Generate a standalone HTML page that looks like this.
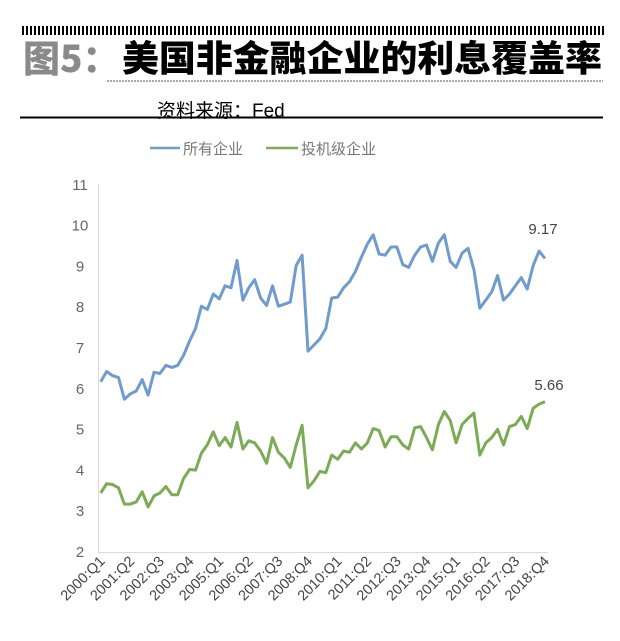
<!DOCTYPE html>
<html><head><meta charset="utf-8"><style>
body{margin:0;background:#fff;width:620px;height:641px;overflow:hidden}
svg{display:block}
</style></head><body>
<svg width="620" height="641" xmlns="http://www.w3.org/2000/svg">
<defs><pattern id="bars" x="22" y="0" width="4" height="10" patternUnits="userSpaceOnUse"><rect x="0" y="0" width="2" height="10" fill="#000"/></pattern></defs>
<rect x="22" y="26" width="582" height="9" fill="url(#bars)"/>
<text x="23" y="72" font-family="'Noto Sans CJK SC',sans-serif" font-size="37" font-weight="900" fill="#8a8a8a">图5：</text>
<text x="122" y="71" font-family="'Noto Sans CJK SC',sans-serif" font-size="36" font-weight="900" fill="#000" textLength="480" lengthAdjust="spacingAndGlyphs">美国非金融企业的利息覆盖率</text>
<line x1="107" y1="81" x2="603" y2="81" stroke="#555" stroke-width="1" stroke-dasharray="2,1"/>
<text x="157" y="117" font-family="'Liberation Sans','Noto Sans CJK SC',sans-serif" font-size="19" fill="#000">资料来源：Fed</text>
<line x1="20" y1="117.5" x2="603" y2="117.5" stroke="#000" stroke-width="2"/>
<line x1="150" y1="148" x2="180" y2="148" stroke="#6f9bcd" stroke-width="2.5"/>
<text x="183" y="154" font-family="'Noto Sans CJK SC',sans-serif" font-size="15" fill="#777">所有企业</text>
<line x1="266" y1="148" x2="298" y2="148" stroke="#7dab55" stroke-width="2.5"/>
<text x="301" y="154" font-family="'Noto Sans CJK SC',sans-serif" font-size="15" fill="#777">投机级企业</text>
</svg>
<script>
var NS="http://www.w3.org/2000/svg",svg=document.querySelector("svg");
function el(t,a,txt){var e=document.createElementNS(NS,t);for(var k in a)e.setAttribute(k,a[k]);if(txt)e.textContent=txt;svg.appendChild(e);return e;}
function Y(v){return 551-(v-2)*40.8;}
function X(i){return 100.7+i*(444.3/75);}
el("line",{x1:98.5,y1:184,x2:98.5,y2:552,stroke:"#d9d9d9","stroke-width":1});
el("line",{x1:98,y1:552.5,x2:548,y2:552.5,stroke:"#d9d9d9","stroke-width":1});
for(var v=2;v<=11;v++)el("text",{x:80,y:Y(v)+6,"text-anchor":"middle","font-family":"'Liberation Sans',sans-serif","font-size":"15",fill:"#666"},String(v));
var labs=["2000:Q1","2001:Q2","2002:Q3","2003:Q4","2005:Q1","2006:Q2","2007:Q3","2008:Q4","2010:Q1","2011:Q2","2012:Q3","2013:Q4","2015:Q1","2016:Q2","2017:Q3","2018:Q4"];
labs.forEach(function(l,k){var x=X(k*5)+5,y=562;el("text",{x:x,y:y,"text-anchor":"end","font-family":"'Liberation Sans',sans-serif","font-size":"14.5",fill:"#444",transform:"rotate(-45 "+x+" "+y+")"},l);});
var b=[6.15,6.4,6.3,6.25,5.72,5.85,5.92,6.2,5.82,6.38,6.35,6.55,6.5,6.55,6.8,7.15,7.45,8.0,7.92,8.3,8.18,8.5,8.45,9.12,8.15,8.45,8.65,8.2,8.02,8.5,8.0,8.05,8.1,9.0,9.25,6.9,7.05,7.2,7.45,8.2,8.22,8.45,8.6,8.85,9.2,9.52,9.75,9.28,9.25,9.45,9.45,9.02,8.95,9.25,9.45,9.5,9.1,9.55,9.75,9.1,8.95,9.3,9.42,8.9,7.95,8.15,8.35,8.75,8.15,8.3,8.5,8.7,8.42,9.0,9.35,9.17];
var g=[3.42,3.65,3.63,3.55,3.15,3.15,3.2,3.45,3.08,3.35,3.42,3.58,3.38,3.38,3.78,4.0,3.98,4.4,4.6,4.92,4.58,4.78,4.55,5.15,4.5,4.7,4.65,4.45,4.15,4.78,4.42,4.28,4.05,4.6,5.08,3.55,3.72,3.95,3.92,4.35,4.25,4.45,4.42,4.65,4.5,4.65,5.0,4.95,4.55,4.8,4.8,4.6,4.5,5.02,5.05,4.78,4.48,5.1,5.42,5.2,4.65,5.1,5.25,5.38,4.35,4.65,4.78,4.98,4.6,5.05,5.1,5.3,5.0,5.5,5.6,5.66];
function poly(d,c){el("polyline",{points:d.map(function(v,i){return X(i).toFixed(1)+","+Y(v).toFixed(1)}).join(" "),fill:"none",stroke:c,"stroke-width":"3","stroke-linejoin":"round"});}
poly(b,"#6f9bcd");poly(g,"#7dab55");
el("text",{x:543,y:234,"text-anchor":"middle","font-family":"'Liberation Sans',sans-serif","font-size":"15",fill:"#444"},"9.17");
el("text",{x:549,y:390,"text-anchor":"middle","font-family":"'Liberation Sans',sans-serif","font-size":"15",fill:"#444"},"5.66");
</script>
</body></html>
